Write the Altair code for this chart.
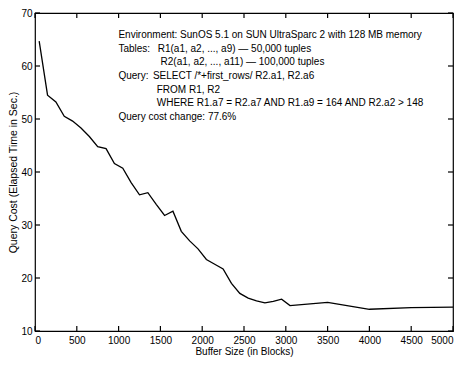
import altair as alt
import pandas as pd

# ---- data ----
buffer_blocks = [50, 150, 250, 350, 450, 550, 650, 750, 850, 950, 1050, 1150,
                 1250, 1350, 1450, 1550, 1650, 1750, 1850, 1950, 2050, 2150,
                 2250, 2350, 2450, 2550, 2650, 2750, 2850, 2950, 3050, 3500,
                 4000, 4500, 5000]
query_cost = [64.7, 54.5, 53.2, 50.5, 49.6, 48.3, 46.7, 44.8, 44.4, 41.6, 40.7,
              38.0, 35.7, 36.1, 33.9, 31.8, 32.6, 28.8, 27.0, 25.5, 23.5, 22.6,
              21.7, 19.0, 17.1, 16.2, 15.7, 15.3, 15.6, 16.0, 14.8, 15.4,
              14.1, 14.4, 14.5]

x_ticks = [0, 500, 1000, 1500, 2000, 2500, 3000, 3500, 4000, 4500, 5000]
y_ticks = [10, 20, 30, 40, 50, 60, 70]

ann_texts = [
    "Environment:  SunOS 5.1 on SUN UltraSparc 2 with 128 MB memory",
    "Tables:",
    "R1(a1, a2, ..., a9) \u2014 50,000 tuples",
    "R2(a1, a2, ..., a11) \u2014 100,000 tuples",
    "Query:",
    "SELECT /*+first_rows/ R2.a1, R2.a6",
    "FROM  R1, R2",
    "WHERE  R1.a7 = R2.a7 AND R1.a9 = 164 AND R2.a2 > 148",
    "Query cost change: 77.6%",
]

# ---- layout ----
FONT = "Liberation Sans, Arial, Helvetica, sans-serif"
W, H = 418, 318
TICK = 5
X_DOM = [0, 5000]
Y_DOM = [10, 70]

# annotation anchor points (read in reference pixels, converted to data units)
ann_px = [(114, 26.7), (114, 41), (155, 41), (158, 55.7),
          (114, 70), (150, 70), (154, 85), (154, 99.3), (114, 114.3)]
REF_X0, REF_X1, REF_Y0, REF_Y1 = 27, 463, 3, 343
ann_df = pd.DataFrame({
    "text": ann_texts,
    "x": [(px - REF_X0) / (REF_X1 - REF_X0) * 5000 for px, _ in ann_px],
    "y": [70 - (py - REF_Y0) / (REF_Y1 - REF_Y0) * 60 for _, py in ann_px],
})

df = pd.DataFrame({"buffer": buffer_blocks, "cost": query_cost})
xt_df = pd.DataFrame({"t": x_ticks})
yt_df = pd.DataFrame({"t": y_ticks})

xs = alt.Scale(domain=X_DOM, nice=False, zero=False)
ys = alt.Scale(domain=Y_DOM, nice=False, zero=False)

common_axis = dict(grid=False, domain=False, ticks=False,
                   labelColor="black", format="d",
                   labelFont=FONT, labelFontSize=10, titleFont=FONT,
                   titleColor="black", titleFontWeight="normal")

line = alt.Chart(df).mark_line(color="black", strokeWidth=1.3).encode(
    x=alt.X("buffer:Q", scale=xs,
            axis=alt.Axis(orient="bottom", values=x_ticks, labelPadding=4,
                          title="Buffer Size  (in Blocks)", titleFontSize=10,
                          titlePadding=1, **common_axis)),
    y=alt.Y("cost:Q", scale=ys,
            axis=alt.Axis(orient="left", values=y_ticks, labelPadding=3,
                          title="Query Cost (Elapsed Time in Sec.)",
                          titleFontSize=10.5, titlePadding=2, **common_axis)),
)

# inward tick marks on all four sides of the frame
tick_style = dict(color="black", strokeWidth=1.2)
x_ticks_bottom = alt.Chart(xt_df).mark_rule(**tick_style).encode(
    x=alt.X("t:Q", scale=xs, axis=None),
    y=alt.value(H), y2=alt.value(H - TICK))
x_ticks_top = alt.Chart(xt_df).mark_rule(**tick_style).encode(
    x=alt.X("t:Q", scale=xs, axis=None),
    y=alt.value(0), y2=alt.value(TICK))
y_ticks_left = alt.Chart(yt_df).mark_rule(**tick_style).encode(
    y=alt.Y("t:Q", scale=ys, axis=None),
    x=alt.value(0), x2=alt.value(TICK))
y_ticks_right = alt.Chart(yt_df).mark_rule(**tick_style).encode(
    y=alt.Y("t:Q", scale=ys, axis=None),
    x=alt.value(W), x2=alt.value(W - TICK))

text_layer = alt.Chart(ann_df).mark_text(
    align="left", baseline="middle", font=FONT, fontSize=10, color="black"
).encode(
    x=alt.X("x:Q", scale=xs, axis=None),
    y=alt.Y("y:Q", scale=ys, axis=None),
    text="text:N",
)

chart = alt.layer(
    line, x_ticks_bottom, x_ticks_top, y_ticks_left, y_ticks_right, text_layer
).resolve_axis(
    x="independent", y="independent"
).properties(
    width=W, height=H,
    padding={"left": 27, "top": 5, "right": 13, "bottom": 27},
    autosize=alt.AutoSizeParams(type="none"),
    background="white",
).configure_view(stroke="black", strokeWidth=1.2)

chart.save("out.html", embed_options={"renderer": "svg", "actions": False})
